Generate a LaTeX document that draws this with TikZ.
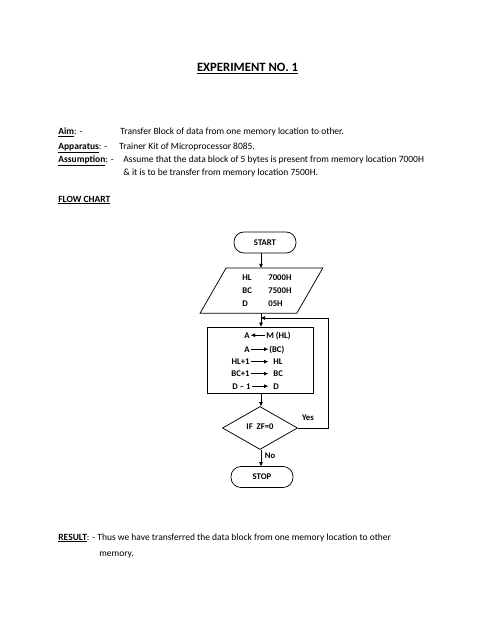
\documentclass[tikz,border=0pt]{standalone}
\usepackage{fontspec}
\setmainfont{Carlito}
\usetikzlibrary{shapes.geometric,arrows.meta}

\tikzset{every picture/.style={line width=0.75pt}}
\tikzset{
  body/.style={anchor=base west,inner sep=0pt,font=\fontsize{9.5}{11}\selectfont},
  chart/.style={inner sep=1pt,font=\fontsize{8.7}{10}\selectfont\bfseries},
  terminal/.style={chart,draw,rounded corners=10pt,minimum width=62pt,minimum height=21pt},
  inout/.style={minimum width=96pt,minimum height=44.5pt,inner sep=0pt},
  process/.style={draw,minimum width=106pt,minimum height=66pt},
  decision/.style={chart,draw,diamond,aspect=1.75,inner sep=0pt,minimum width=75pt,minimum height=43pt},
  flow/.style={-{Triangle[length=4pt,width=3.5pt]}},
}

\begin{document}
\begin{tikzpicture}[x=1pt,y=1pt,yscale=-1,xscale=1]
    \useasboundingbox (0,0) rectangle (495,640);

    % Text Node
    \node[anchor=base,inner sep=0pt,font=\fontsize{12.7}{15}\selectfont\bfseries] (title) at (247.5,71.5) {\underline{EXPERIMENT NO. 1}};

    % Text Node
    \node[body] (aim) at (58,134.5) {\textbf{\underline{Aim}}: -};
    % Text Node
    \node[body] (aimtxt) at (120,134.5) {Transfer Block of data from one memory location to other.};
    % Text Node
    \node[body] (app) at (58,149) {\textbf{\underline{Apparatus}}: -};
    % Text Node
    \node[body] (apptxt) at (119,149) {Trainer Kit of Microprocessor 8085.};
    % Text Node
    \node[body] (ass) at (58,162) {\textbf{\underline{Assumption}}: -};
    % Text Node
    \node[body] (asstxt) at (123,162) {Assume that the data block of 5 bytes is present from memory location 7000H};
    % Text Node
    \node[body] (asstxtb) at (123,175) {\& it is to be transfer from memory location 7500H.};
    % Text Node
    \node[body] (fc) at (58,202) {\textbf{\underline{FLOW CHART}}};

    %Shape: Terminal
    \node[terminal] (start) at (265,242.5) {START};
    %Shape: Parallelogram
    \node[inout] (init) at (261.5,290.5) {};
    \draw ([xshift=13pt]init.north west) -- ([xshift=13pt]init.north east) -- ([xshift=-13pt]init.south east) -- ([xshift=-13pt]init.south west) -- cycle;
    %Shape: Rectangle
    \node[process] (loop) at (260.5,360) {};
    %Shape: Diamond
    \node[decision] (test) at (260,428) {\raisebox{3pt}{IF\ \ ZF=0}};
    %Shape: Terminal
    \node[terminal] (stop) at (262,477) {STOP};

    % Text Node
    \node[chart,anchor=base west] (hl) at (241,280) {HL};
    \node[chart,anchor=base west] (hlv) at (267,280) {7000H};
    \node[chart,anchor=base west] (bc) at (241,293) {BC};
    \node[chart,anchor=base west] (bcv) at (267,293) {7500H};
    \node[chart,anchor=base west] (d) at (241,306) {D};
    \node[chart,anchor=base west] (dv) at (267,306) {05H};

    % Text Node
    \node[chart,anchor=base east] (la) at (251,338) {A};
    \node[chart,anchor=base west] (ra) at (265,338) {M (HL)};
    \node[chart,anchor=base east] (lb) at (251,352) {A};
    \node[chart,anchor=base west] (rb) at (268,352) {(BC)};
    \node[chart,anchor=base east] (lc) at (251,364.5) {HL+1};
    \node[chart,anchor=base west] (rc) at (272,364.5) {HL};
    \node[chart,anchor=base east] (ld) at (251,376.5) {BC+1};
    \node[chart,anchor=base west] (rd) at (272,376.5) {BC};
    \node[chart,anchor=base east] (le) at (252,389) {D -- 1};
    \node[chart,anchor=base west] (re) at (272,389) {D};

    %Straight Lines
    \draw[flow] (ra.west |- la.east) -- (la.east);
    \draw[flow] (lb.east) -- (lb.east -| rb.west);
    \draw[flow,shorten >=4pt] (lc.east) -- (lc.east -| rc.west);
    \draw[flow,shorten >=4pt] (ld.east) -- (ld.east -| rd.west);
    \draw[flow,shorten >=4pt] (le.east) -- (le.east -| re.west);

    % Text Node
    \node[chart] (yes) at (308,418) {Yes};
    % Text Node
    \node[chart] (no) at (270,456) {No};

    \coordinate (merge) at (261,318);
    \coordinate (back) at (328,318);

    %Straight Lines
    \draw[flow] (start.south -| merge) -- (merge |- init.north);
    \draw[flow] (merge |- init.south) -- (merge |- loop.north);
    \draw[flow] (merge |- loop.south) -- (merge |- test.north);
    \draw[flow] (merge |- test.south) -- (merge |- stop.north);
    \draw[flow] (test.east) -| (back) -- (merge);

    % Text Node
    \node[body] (res) at (58,540) {\textbf{\underline{RESULT}}: - Thus we have transferred the data block from one memory location to other};
    % Text Node
    \node[body] (restxt) at (99,556) {memory.};

\end{tikzpicture}
\end{document}
